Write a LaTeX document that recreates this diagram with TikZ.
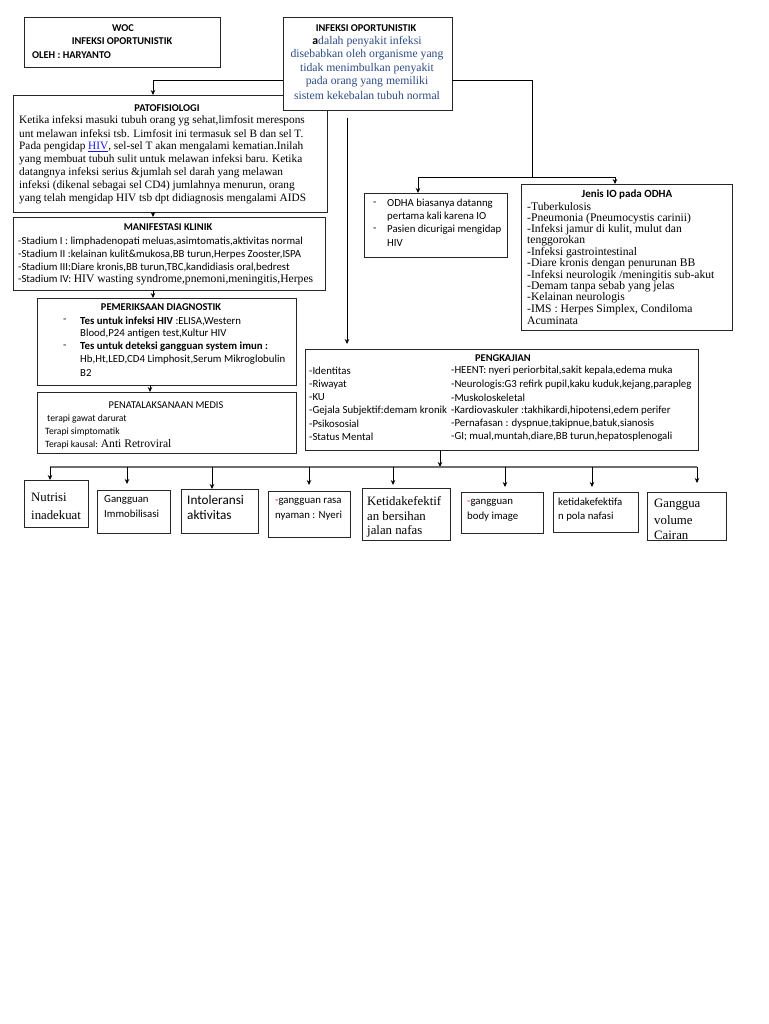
\documentclass[tikz,border=0pt]{standalone}
\usepackage{fontspec}
\setmainfont{Liberation Serif}
\newfontfamily\calibri{Carlito}
\usepackage{xcolor}
\usetikzlibrary{arrows.meta,positioning}
\definecolor{DefBlue}{HTML}{2E4C86}
\definecolor{LinkBlue}{HTML}{1A1AE0}
\definecolor{BusGray}{HTML}{6E6E6E}

\begin{document}
\begin{tikzpicture}[x=1pt,y=-1pt,
    box/.style={draw=black!85,line width=0.9pt,fill=white,inner sep=0pt,outer sep=0pt},
    arr/.style={-{Stealth[length=5pt,width=4.5pt]},line width=0.8pt},
    ln/.style={line width=0.8pt},
    hd/.style={font=\calibri\bfseries\fontsize{10.4}{11}\selectfont,inner sep=0pt},
    sm/.style={font=\calibri\fontsize{10.8}{12}\selectfont,anchor=west,inner sep=0pt},
    pn/.style={font=\calibri\fontsize{9.6}{11}\selectfont,anchor=west,inner sep=0pt},
    tm/.style={font=\fontsize{11.3}{13}\selectfont,anchor=west,inner sep=0pt},
    big/.style={font=\fontsize{12.8}{14}\selectfont,anchor=west,inner sep=0pt}
  ]
    \fill[white] (0,0) rectangle (768,1024);
    \useasboundingbox (0,0) rectangle (768,1024);
    % boxes
    \node[box,minimum width=196,minimum height=50] (woc) at (122,42) {};
    \node[box,minimum width=314,minimum height=117] (pato) at (170,153.5) {};
    \node[box,minimum width=169,minimum height=93] (infeksi) at (367.5,63.5) {};
    \node[box,minimum width=312,minimum height=73] (manif) at (169,253.5) {};
    \node[box,minimum width=259,minimum height=87] (pemer) at (166.5,341.5) {};
    \node[box,minimum width=259,minimum height=61] (penata) at (166.5,422.5) {};
    \node[box,minimum width=143,minimum height=64] (odha) at (435.5,225) {};
    \node[box,minimum width=211,minimum height=146] (jenis) at (626.5,257) {};
    \node[box,minimum width=393,minimum height=101] (kaji) at (501.5,399.5) {};
    \foreach \n/\cx/\cy/\w/\h in {nutrisi/56/503.5/64/47, immob/133.5/511.5/73/43,
        intol/219.5/511/77/44, nyeri/309/514/82/46, bersihan/406/514/88/52,
        body/502/512.5/82/41, pola/595.5/512/85/40, cairan/686.5/516/79/48}
      \node[box,minimum width=\w,minimum height=\h] (\n) at (\cx,\cy) {};

    % title box
    \node[hd] (woc1) at (123,28) {WOC};
    \node[hd] (woc2) at (122,41) {INFEKSI OPORTUNISTIK};
    \node[hd,anchor=west] (woc3) at (32,55) {OLEH : HARYANTO};

    % definition
    \node[hd] (inf0) at (366,28) {INFEKSI OPORTUNISTIK};
    \foreach \t [count=\i] in {{{\calibri\bfseries\color{black}a}dalah penyakit infeksi},
        {disebabkan oleh organisme yang},{tidak menimbulkan penyakit},
        {pada orang yang memiliki},{sistem kekebalan tubuh normal}}
      \node[font=\fontsize{11.7}{13}\selectfont,text=DefBlue,inner sep=0pt]
        (inf\i) at (367,{28+13.5*\i}) {\t};

    % patofisiologi
    \node[hd] (pato0) at (167,108) {PATOFISIOLOGI};
    \foreach \t [count=\i] in {{Ketika infeksi masuki tubuh orang yg sehat,limfosit merespons},
        {unt melawan infeksi tsb. Limfosit ini termasuk sel B dan sel T.},
        {Pada pengidap \textcolor{LinkBlue}{\underline{HIV}}, sel-sel T akan mengalami kematian.Inilah},
        {yang membuat tubuh sulit untuk melawan infeksi baru. Ketika},
        {datangnya infeksi serius \&jumlah sel darah yang melawan},
        {infeksi (dikenal sebagai sel CD4) jumlahnya menurun, orang},
        {yang telah mengidap HIV tsb dpt didiagnosis mengalami AIDS}}
      \node[tm] (pato\i) at (19,{108+13*\i}) {\t};

    % manifestasi klinik
    \node[hd] (manif0) at (168,227) {MANIFESTASI KLINIK};
    \foreach \t [count=\i] in {{-Stadium I : limphadenopati meluas,asimtomatis,aktivitas normal},
        {-Stadium II :kelainan kulit\&mukosa,BB turun,Herpes Zooster,ISPA},
        {-Stadium III:Diare kronis,BB turun,TBC,kandidiasis oral,bedrest},
        {-Stadium IV: {\rmfamily\fontsize{11.6}{13}\selectfont HIV wasting syndrome,pnemoni,meningitis,Herpes}}}
      \node[sm] (manif\i) at (18,{229+12.7*\i}) {\t};

    % pemeriksaan diagnostik
    \node[hd] (pemer0) at (161,307) {PEMERIKSAAN DIAGNOSTIK};
    \node[sm] (pemerd1) at (63,321) {-};
    \node[sm] (pemerd2) at (63,347) {-};
    \foreach \t [count=\i] in {{\textbf{Tes untuk infeksi HIV} :ELISA,Western},
        {Blood,P24 antigen test,Kultur HIV},
        {\textbf{Tes untuk deteksi gangguan system imun :}},
        {Hb,Ht,LED,CD4 Limphosit,Serum Mikroglobulin},{B2}}
      \node[sm] (pemer\i) at (80,{308+13*\i}) {\t};

    % penatalaksanaan
    \node[font=\calibri\fontsize{10.4}{11}\selectfont,inner sep=0pt] (penata0) at (166,405) {PENATALAKSANAAN MEDIS};
    \node[pn] (penata1) at (47,419) {terapi gawat darurat};
    \node[pn] (penata2) at (45,432) {Terapi simptomatik};
    \node[pn] (penata3) at (45,444) {Terapi kausal: {\rmfamily\fontsize{11.6}{13}\selectfont Anti Retroviral}};

    % odha
    \node[sm] (odhad1) at (373,204) {-};
    \node[sm] (odhad2) at (373,230) {-};
    \foreach \t [count=\i] in {{ODHA biasanya datanng},{pertama kali karena IO},
        {Pasien dicurigai mengidap},{HIV}}
      \node[sm] (odha\i) at (387,{190.5+13.2*\i}) {\t};

    % jenis IO
    \node[hd,font=\calibri\bfseries\fontsize{11}{12}\selectfont] (jenis0) at (627,195) {Jenis IO pada ODHA};
    \foreach \t [count=\i] in {{-Tuberkulosis},{-Pneumonia (Pneumocystis carinii)},
        {-Infeksi jamur di kulit, mulut dan},{tenggorokan},{-Infeksi gastrointestinal},
        {-Diare kronis dengan penurunan BB},{-Infeksi neurologik /meningitis sub-akut},
        {-Demam tanpa sebab yang jelas},{-Kelainan neurologis},
        {-IMS : Herpes Simplex, Condiloma},{Acuminata}}
      \node[tm,font=\fontsize{11.6}{13}\selectfont] (jenis\i) at (527,{195.6+11.4*\i}) {\t};

    % pengkajian
    \node[hd] (kaji0) at (503,358) {PENGKAJIAN};
    \foreach \t [count=\i] in {{-Identitas},{-Riwayat},{-KU},{-Gejala Subjektif:demam kronik},
        {-Psikososial},{-Status Mental}}
      \node[sm] (kajiL\i) at (309,{358+13.1*\i}) {\t};
    \foreach \t [count=\i] in {{-HEENT: nyeri periorbital,sakit kepala,edema muka},
        {-Neurologis:G3 refirk pupil,kaku kuduk,kejang,parapleg},{-Muskoloskeletal},
        {-Kardiovaskuler :takhikardi,hipotensi,edem perifer},
        {-Pernafasan : dyspnue,takipnue,batuk,sianosis},
        {-GI; mual,muntah,diare,BB turun,hepatosplenogali}}
      \node[sm] (kajiR\i) at (451,{358+13.1*\i}) {\t};

    % diagnosa
    \node[big] (nutrisi1) at (31,497) {Nutrisi};
    \node[big] (nutrisi2) at (31,515) {inadekuat};
    \node[sm] (immob1) at (104,500) {Gangguan};
    \node[sm] (immob2) at (104,514) {Immobilisasi};
    \node[sm,font=\calibri\fontsize{13.2}{14}\selectfont] (intol1) at (187,500) {Intoleransi};
    \node[sm,font=\calibri\fontsize{13.2}{14}\selectfont] (intol2) at (187,515) {aktivitas};
    \node[sm] (nyeri1) at (275,502) {\textcolor{red}{-}gangguan rasa};
    \node[sm] (nyeri2) at (275,516) {nyaman : Nyeri};
    \node[big] (bersihan1) at (367,501) {Ketidakefektif};
    \node[big] (bersihan2) at (367,516) {an bersihan};
    \node[big] (bersihan3) at (367,531) {jalan nafas};
    \node[sm] (body1) at (467,503) {\textcolor{red}{-}gangguan};
    \node[sm] (body2) at (467,517) {body image};
    \node[sm] (pola1) at (558,502) {ketidakefektifa};
    \node[sm] (pola2) at (558,517) {n pola nafasi};
    \node[big] (cairan1) at (654,505) {Ganggua};
    \node[big] (cairan2) at (654,520) {volume};
    \node[big] (cairan3) at (654,535) {Cairan};

    % connectors
    \coordinate (jL) at (153,80);
    \coordinate (jR) at (532,80);
    \coordinate (jR2) at (532,177);
    \coordinate (odhaIn) at (418,177);
    \coordinate (jenisIn) at (615,177);
    \coordinate (kx) at (347,0);
    \coordinate (bus) at (440,467);
    \draw[arr] (infeksi.west |- jL) -- (jL) -- (pato.north -| jL);
    \draw[ln] (infeksi.east |- jR) -- (jR) -- (jR2);
    \draw[arr] (jR2) -- (odhaIn) -- (odha.north -| odhaIn);
    \draw[arr] (jR2) -- (jenisIn) -- (jenis.north -| jenisIn);
    \draw[arr,shorten <=8pt,shorten >=5pt] (infeksi.south -| kx) -- (kaji.north -| kx);
    \draw[arr] (pato.south -| jL) -- (manif.north -| jL);
    \draw[arr] (manif.south -| jL) -- (pemer.north -| jL);
    \draw[arr] (pemer.south -| 150,0) -- (penata.north -| 150,0);
    \draw[arr] (kaji.south -| bus) -- (bus);
    \draw[BusGray,line width=1.2pt] (bus -| 50,0) -- (bus -| 697,0);
    \foreach \n/\x/\g in {nutrisi/50/0, immob/127/6, intol/212/0, nyeri/309/6,
        bersihan/393/3, body/505/5, pola/592/5, cairan/697/9}
      \draw[arr,shorten >=\g pt] (bus -| \x,0) -- (\n.north -| \x,0);
\end{tikzpicture}
\end{document}
